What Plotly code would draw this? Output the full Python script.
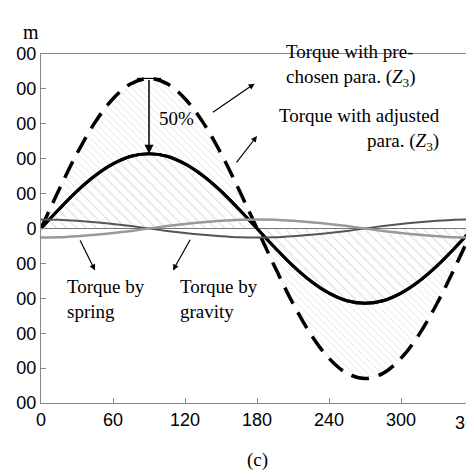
import plotly.graph_objects as go

angle = [0, 15, 30, 45, 60, 75, 90, 105, 120, 135, 150, 165, 180,
         195, 210, 225, 240, 255, 270, 285, 300, 315, 330, 345, 360]
pre_chosen = [0, 111, 215, 304, 372, 415, 430, 415, 372, 304, 215, 111, 0,
              -111, -215, -304, -372, -415, -430, -415, -372, -304, -215, -111, 0]
adjusted = [0, 55, 107, 151, 185, 207, 214, 207, 185, 151, 107, 55, 0,
            -55, -107, -151, -185, -207, -214, -207, -185, -151, -107, -55, 0]
spring = [26, 25, 22, 18, 13, 7, 0, -7, -13, -18, -22, -25, -26,
          -25, -22, -18, -13, -7, 0, 7, 13, 18, 22, 25, 26]
gravity = [-v for v in spring]
y_ticks = [-500, -400, -300, -200, -100, 0, 100, 200, 300, 400, 500]
x_ticks = [0, 60, 120, 180, 240, 300]

fig = go.Figure()
hatch = dict(shape="\\", fgcolor="#b8b8b8", bgcolor="rgba(0,0,0,0)", size=5, solidity=0.15)

fig.add_trace(go.Scatter(x=angle, y=adjusted, mode="lines", line=dict(color="black", width=3, shape="spline")))
fig.add_trace(go.Scatter(x=angle, y=pre_chosen, mode="lines", fill="tonexty", fillcolor="rgba(0,0,0,0)",
                         fillpattern=hatch,
                         line=dict(color="black", width=3.5, dash="18px,10px", shape="spline")))
fig.add_trace(go.Scatter(x=angle, y=[0] * len(angle), mode="lines", line=dict(color="#777", width=1)))
fig.add_trace(go.Scatter(x=angle, y=adjusted, mode="lines", fill="tonexty", fillcolor="rgba(0,0,0,0)",
                         fillpattern=dict(hatch, size=7),
                         line=dict(color="black", width=3, shape="spline")))
fig.add_trace(go.Scatter(x=angle, y=spring, mode="lines", line=dict(color="#555", width=2, shape="spline")))
fig.add_trace(go.Scatter(x=angle, y=gravity, mode="lines", line=dict(color="#999", width=2.5, shape="spline")))

serif = dict(family="Times New Roman", size=19, color="black")
arr = dict(showarrow=True, arrowhead=2, arrowwidth=1.2, arrowcolor="black", axref="x", ayref="y", text="")
ann = [
    dict(arr, x=90, y=214, ax=90, ay=430, arrowsize=1.2, arrowwidth=1.5),
    dict(x=113, y=314, text="50%", showarrow=False, font=serif),
    dict(x=258, y=467, text="Torque with pre-<br>chosen para. (<i>Z</i><sub>3</sub>)", showarrow=False, font=serif, align="left"),
    dict(x=265, y=283, text="Torque with adjusted<br>para. (<i>Z</i><sub>3</sub>)", showarrow=False, font=serif, align="right"),
    dict(x=54, y=-203, text="Torque by<br>spring", showarrow=False, font=serif, align="left"),
    dict(x=148, y=-203, text="Torque by<br>gravity", showarrow=False, font=serif, align="left"),
    dict(arr, x=178, y=415, ax=142, ay=330),
    dict(arr, x=180, y=265, ax=162, ay=185),
    dict(arr, x=45, y=-120, ax=32, ay=-30),
    dict(arr, x=110, y=-120, ax=125, ay=-28),
    dict(x=1.0, y=0.0, xref="paper", yref="paper", text="36", showarrow=False, yshift=-8, xshift=-8,
         yanchor="top", xanchor="center", font=dict(family="Liberation Sans", size=18)),
    dict(x=0.0, y=1.10, xref="paper", yref="paper", text="m", showarrow=False,
         font=dict(family="Times New Roman", size=20), xanchor="right"),
    dict(x=0.5, y=-0.20, xref="paper", yref="paper", text="(c)", showarrow=False, font=serif),
]
shapes = [
    dict(type="line", x0=80, x1=100, y0=430, y1=430, line=dict(color="black", width=1.2)),
    dict(type="line", x0=80, x1=100, y0=214, y1=214, line=dict(color="black", width=1.2)),
]

fig.update_layout(
    width=474, height=474, showlegend=False, plot_bgcolor="white", paper_bgcolor="white",
    margin=dict(l=26, r=8, t=46, b=79), annotations=ann, shapes=shapes,
    font=dict(family="Liberation Sans", size=18, color="black"),
)
fig.update_xaxes(range=[0, 360], tickvals=x_ticks, ticktext=[str(v) for v in x_ticks],
                 showgrid=False, zeroline=False, showline=True, mirror=True, linecolor="#888",
                 ticks="inside", ticklen=5, tickcolor="#888")
fig.update_yaxes(range=[-500, 500], tickvals=y_ticks, ticktext=["00"] * 5 + ["0"] + ["00"] * 5,
                 showgrid=False, zeroline=False, showline=True, mirror=True, linecolor="#888",
                 ticks="inside", ticklen=5, tickcolor="#888")

fig.write_html("out.html")
